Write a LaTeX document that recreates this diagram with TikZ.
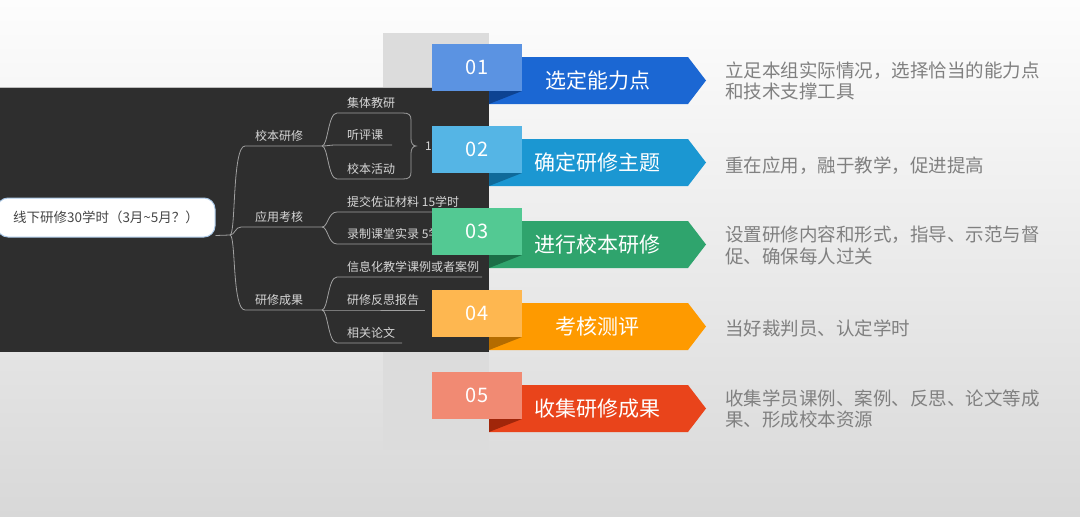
\documentclass[tikz,border=0pt]{standalone}
\usepackage{fontspec}
\setmainfont{Noto Sans CJK SC}
\definecolor{bgtop}{HTML}{FDFDFD}
\definecolor{bgbot}{HTML}{D8D8D8}
\definecolor{bandgray}{HTML}{DCDCDC}
\definecolor{panel}{HTML}{2E2E2E}
\definecolor{panelline}{HTML}{BDBDBD}
\definecolor{mmtext}{HTML}{D6D6D6}
\definecolor{mmline}{HTML}{A0A0A0}
\definecolor{roottext}{HTML}{454545}
\definecolor{rootborder}{HTML}{A9C7E6}
\definecolor{desctext}{HTML}{808080}
\definecolor{boxa}{HTML}{5B93E2}
\definecolor{banda}{HTML}{1B67D3}
\definecolor{folda}{HTML}{0D4392}
\definecolor{boxb}{HTML}{55B5E5}
\definecolor{bandb}{HTML}{1B97D2}
\definecolor{foldb}{HTML}{0F6A9A}
\definecolor{boxc}{HTML}{53C993}
\definecolor{bandc}{HTML}{2FA46D}
\definecolor{foldc}{HTML}{1B6E47}
\definecolor{boxd}{HTML}{FEB750}
\definecolor{bandd}{HTML}{FE9A00}
\definecolor{foldd}{HTML}{B46C00}
\definecolor{boxe}{HTML}{F18A73}
\definecolor{bande}{HTML}{E9441B}
\definecolor{folde}{HTML}{A0260A}
\begin{document}
\begin{tikzpicture}[x=1pt,y=-1pt,
  mm/.style={font=\fontsize{12}{14}\selectfont, text=mmtext, inner sep=0pt, anchor=base west},
  mml/.style={draw=mmline, line width=0.8pt},
  numbox/.style={minimum width=90pt, minimum height=47pt, inner sep=0pt, text=white, font=\fontsize{20}{24}\selectfont},
  bandtext/.style={text=white, font=\fontsize{21}{24}\selectfont, inner sep=0pt},
  desc/.style={text=desctext, font=\fontsize{18.5}{21}\selectfont, inner sep=0pt, anchor=base west}]
\useasboundingbox (0,0) rectangle (1080,517);
\shade[top color=bgtop, bottom color=bgbot] (0,0) rectangle (1080,517);
\fill[bandgray] (383,33) rectangle (489,450);
\fill[panel] (0,87) rectangle (489,352);
\draw[panelline, line width=1pt] (0,87) -- (489,87);
% root
\node[draw=rootborder, line width=1pt, fill=white, rounded corners=11pt, minimum width=218pt, minimum height=39pt, inner sep=0pt, text=roottext, font=\fontsize{13.5}{16}\selectfont] (root) at (106,217.5) {线下研修30学时（3月\textasciitilde5月？）};
\coordinate (rj) at (230,235);
\draw[mml] ([yshift=2pt]root.south east) -- (rj);
% branches
\coordinate (b1s) at (245,146); \coordinate (b1e) at (322,146);
\coordinate (b2s) at (241,227); \coordinate (b2e) at (322,227);
\coordinate (b3s) at (245,310); \coordinate (b3e) at (322,310);
\node[mm] (br1) at (255,140) {校本研修};
\node[mm] (br2) at (255,221) {应用考核};
\node[mm] (br3) at (255,304) {研修成果};
\draw[mml] (rj) .. controls (236,235) and (232,146) .. (b1s) -- (b1e);
\draw[mml] (rj) .. controls (235,235) and (235,227) .. (b2s) -- (b2e);
\draw[mml] (rj) .. controls (236,235) and (232,310) .. (b3s) -- (b3e);
% leaves
\foreach \n/\b/\y/\e/\t in {la/b1e/113/403/集体教研, lb/b1e/145/392/听评课, lc/b1e/179/403/校本活动,
  ld/b2e/212/458/提交佐证材料 15学时, le/b2e/244/458/录制课堂实录 5学时,
  lf/b3e/277/482/信息化教学课例或者案例, lg/b3e/310/425/研修反思报告, lh/b3e/343/402/相关论文}{
  \coordinate (\n s) at (337,\y);
  \coordinate (\n e) at (\e,\y);
  \node[mm] (\n) at (347,\y-5.5) {\t};
  \draw[mml] (\b) .. controls ([xshift=6pt]\b) and (328,\y) .. (\n s) -- (\n e);
}
% brace
\draw[mml] (lae) .. controls (409,113) and (411,115) .. (411,120) -- (411,139)
  .. controls (411,143) and (413,146) .. (416,146)
  .. controls (413,146) and (411,149) .. (411,153) -- (411,172)
  .. controls (411,177) and (409,179) .. (lce);
\node[mm, anchor=west] (one) at (425,146) {1};
% steps
\foreach \i/\ty/\bx/\bd/\fd/\num/\txt in {1/44/boxa/banda/folda/01/选定能力点, 2/126/boxb/bandb/foldb/02/确定研修主题,
  3/208/boxc/bandc/foldc/03/进行校本研修, 4/290/boxd/bandd/foldd/04/考核测评, 5/372/boxe/bande/folde/05/收集研修成果}{
  \fill[\bd] (489,\ty+13) -- (688,\ty+13) -- (706,\ty+36.5) -- (688,\ty+60) -- (489,\ty+60) -- cycle;
  \fill[\fd] (489,\ty+47) -- (522,\ty+47) -- (489,\ty+60) -- cycle;
  \node[numbox, fill=\bx] (num\i) at (477,\ty+23.5) {\num};
  \node[bandtext] (band\i) at (597.5,\ty+36.5) {\txt};
}
% descriptions
\node[desc] (d1a) at (725,77) {立足本组实际情况，选择恰当的能力点};
\node[desc] (d1b) at (725,98) {和技术支撑工具};
\node[desc] (d2a) at (725,172) {重在应用，融于教学，促进提高};
\node[desc] (d3a) at (725,241) {设置研修内容和形式，指导、示范与督};
\node[desc] (d3b) at (725,263) {促、确保每人过关};
\node[desc] (d4a) at (725,335) {当好裁判员、认定学时};
\node[desc] (d5a) at (725,405) {收集学员课例、案例、反思、论文等成};
\node[desc] (d5b) at (725,426) {果、形成校本资源};
\end{tikzpicture}
\end{document}
